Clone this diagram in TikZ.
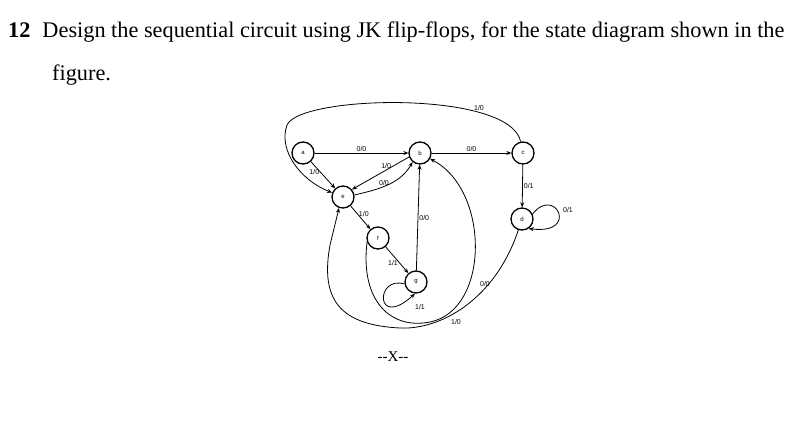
\documentclass[tikz,border=0pt]{standalone}
\usepackage{fontspec}
\setmainfont{Liberation Serif}
\newfontfamily\lab{Liberation Sans}
\usetikzlibrary{arrows.meta}
\begin{document}
\begin{tikzpicture}[x=1pt,y=-1pt,
  st/.style={circle,draw,line width=1.3pt,minimum size=22pt,inner sep=0pt,font=\lab\fontsize{6}{6}\selectfont},
  tr/.style={-{Stealth[length=5pt,width=4pt]},line width=0.8pt},
  lb/.style={font=\lab\fontsize{7}{7}\selectfont,inner sep=1pt}]
\useasboundingbox (0,0) rectangle (810,426);
\node[anchor=west,font=\fontsize{22.3}{24}\selectfont,inner sep=0pt] (t1) at (8,32) {\textbf{12}\hspace{12pt}Design the sequential circuit using JK flip-flops, for the state diagram shown in the};
\node[anchor=west,font=\fontsize{22.3}{24}\selectfont,inner sep=0pt] (t2) at (52,75) {figure.};
\node[font=\fontsize{15}{15}\selectfont] (x) at (393,357) {{-}{-}X{-}{-}};
\node[st] (a) at (303,153) {a};
\node[st] (b) at (420,153) {b};
\node[st] (c) at (523,153) {c};
\node[st] (d) at (522,219) {d};
\node[st] (e) at (343,197) {e};
\node[st] (f) at (378,238) {f};
\node[st] (g) at (416,282) {g};
\draw[tr] (a) -- node[lb,above]{0/0} (b);
\draw[tr] (b) -- node[lb,above]{0/0} (c);
\draw[tr] (a) -- node[lb,left,pos=0.4]{1/0} (e);
\draw[tr] (c) .. controls (510,90) and (300,95) .. (287,125) .. controls (278,150) and (300,180) .. (e);
\node[lb] (l1) at (479,108) {1/0};
\draw[tr] (b.200) -- node[lb,above,pos=0.4]{1/0} (e.40);
\draw[tr] (e.10) .. controls (375,190) and (400,185) .. (b.230);
\node[lb] (l2) at (384,183) {0/0};
\draw[tr] (e) -- node[lb,right,pos=0.35]{1/0} (f);
\draw[tr] (c) -- node[lb,right]{0/1} (d);
\draw[tr] (d.25) .. controls (555,185) and (580,235) .. (d.-55);
\node[lb] (l3) at (568,210) {0/1};
\draw[tr] (g.190) .. controls (375,275) and (375,330) .. (g.265);
\node[lb] (l4) at (420,307) {1/1};
\draw[tr] (f) -- node[lb,left,pos=0.6]{1/1} (g);
\draw[tr] (g) -- node[lb,right]{0/0} (b);
\draw[tr] (f.200) .. controls (360,300) and (390,330) .. (430,322) .. controls (490,310) and (490,190) .. (b.-30);
\node[lb] (l5) at (485,284) {0/0};
\draw[tr] (d) .. controls (495,300) and (440,330) .. (400,328) .. controls (340,325) and (320,300) .. (330,245) -- (e.250);
\node[lb] (l6) at (456,322) {1/0};
\end{tikzpicture}
\end{document}
